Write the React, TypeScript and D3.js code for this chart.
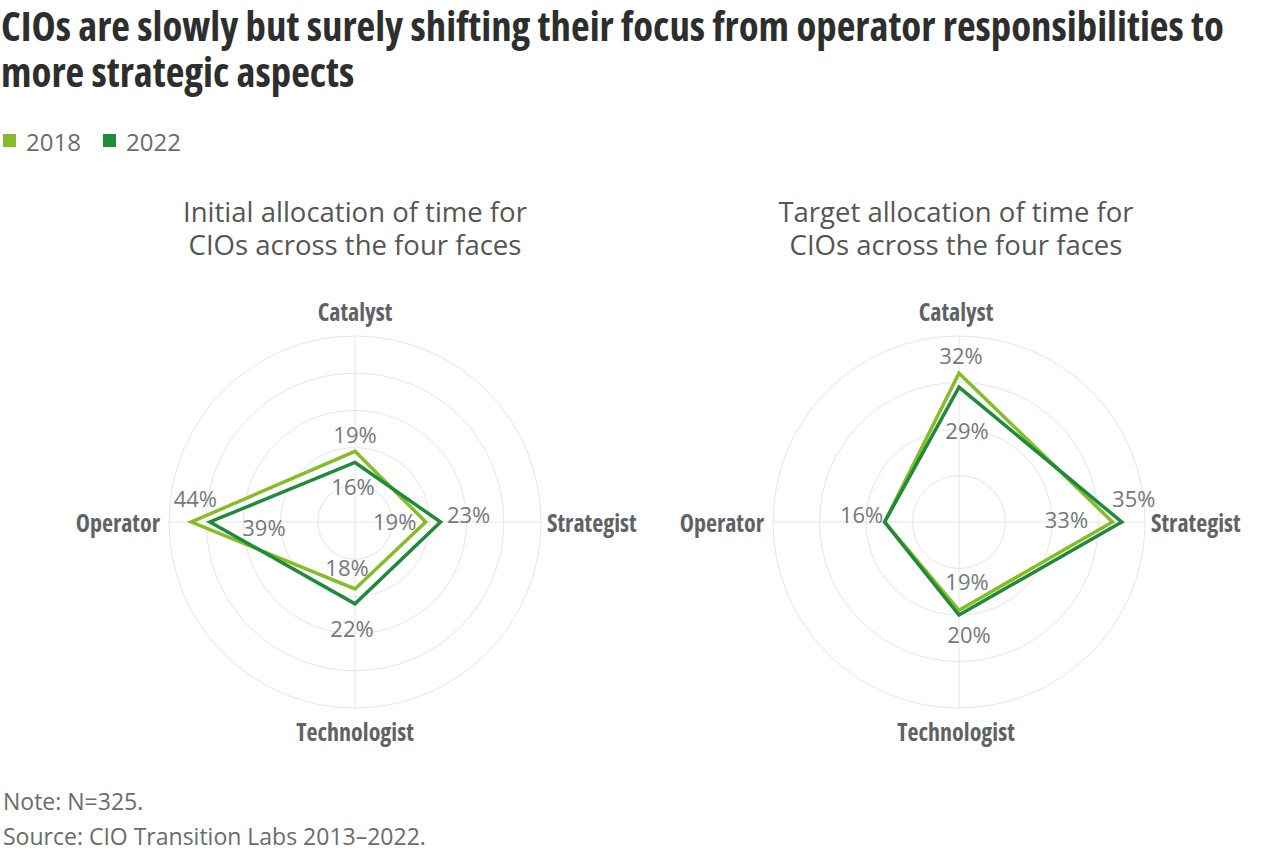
import { useEffect, useRef } from "react"
import * as d3 from "d3"

const faces = ["Catalyst", "Strategist", "Technologist", "Operator"]
const years = ["2018", "2022"]

const initial2018 = [19, 19, 18, 44]
const initial2022 = [16, 23, 22, 39]
const target2018 = [32, 33, 19, 16]
const target2022 = [29, 35, 20, 16]

const initialTicks = [10, 20, 30, 40, 50]
const targetTicks = [10, 20, 30, 40]

const colors = ["#86bc25", "#1f8a3a"]

// label offsets relative to each point (null = no label)
type Off = { dx: number; dy: number } | null
const initialOffsets: Off[][] = [
  [{ dx: 0, dy: -17 }, { dx: -31, dy: -1 }, { dx: -8, dy: -22 }, { dx: 4, dy: -24 }],
  [{ dx: -2, dy: 24 }, { dx: 28, dy: -8 }, { dx: -3, dy: 24 }, { dx: 54, dy: 5 }],
]
const targetOffsets: Off[][] = [
  [{ dx: 2, dy: -18 }, { dx: -46, dy: -3 }, { dx: 8, dy: -29 }, null],
  [{ dx: 8, dy: 43 }, { dx: 12, dy: -24 }, { dx: 10, dy: 19 }, { dx: -23, dy: -8 }],
]

const condensed = "'Open Sans', 'Liberation Sans Narrow', sans-serif"
const sans = "'Open Sans', sans-serif"

export default function App() {
  const svgRef = useRef<SVGSVGElement>(null)

  useEffect(() => {
    if (!svgRef.current) return
    const width = 1265
    const height = 864
    const svg = d3.select(svgRef.current).attr("width", width).attr("height", height)
    svg.selectAll("*").remove()

    svg.append("rect").attr("width", width).attr("height", height).attr("fill", "#fff")

    // Title
    const title = svg
      .append("text")
      .attr("font-family", condensed)
      .attr("font-weight", 700)
      .style("font-stretch", "condensed")
      .attr("font-size", 40.8)
      .attr("fill", "#2e2e2e")
    title.append("tspan").attr("x", 1).attr("y", 41).text("CIOs are slowly but surely shifting their focus from operator responsibilities to")
    title.append("tspan").attr("x", 1).attr("y", 87).text("more strategic aspects")

    // Legend
    const legend = svg.append("g").attr("transform", "translate(3,134)")
    const lx = [0, 100]
    years.forEach((y, i) => {
      legend.append("rect").attr("x", lx[i]).attr("y", 0).attr("width", 13).attr("height", 13).attr("fill", colors[i])
      legend
        .append("text")
        .attr("x", lx[i] + 23)
        .attr("y", 7)
        .attr("dominant-baseline", "central")
        .attr("font-family", sans)
        .attr("font-size", 24)
        .attr("fill", "#6b6b6b")
        .text(y)
    })

    const outerR = 186
    const drawRadar = (
      cx: number,
      titleX: number,
      subtitle: string[],
      series: number[][],
      ticks: number[],
      offsets: Off[][],
    ) => {
      const cy = 522
      const g = svg.append("g").attr("transform", `translate(${cx},${cy})`)
      const r = d3.scaleLinear().domain([0, d3.max(ticks)!]).range([0, outerR])
      const angle = (i: number) => (i * Math.PI) / 2

      // subtitle
      subtitle.forEach((s, i) => {
        svg
          .append("text")
          .attr("x", titleX)
          .attr("y", 222 + i * 33)
          .attr("text-anchor", "middle")
          .attr("font-family", sans)
          .attr("font-size", 27.5)
          .attr("fill", "#555")
          .text(s)
      })

      // grid rings
      g.selectAll("circle.ring")
        .data(ticks)
        .enter()
        .append("circle")
        .attr("class", "ring")
        .attr("r", (d) => r(d))
        .attr("fill", "none")
        .attr("stroke", "#e6e6e6")
        .attr("stroke-width", 1)

      // spokes
      g.selectAll("line.spoke")
        .data(faces)
        .enter()
        .append("line")
        .attr("x1", 0)
        .attr("y1", 0)
        .attr("x2", (_, i) => Math.sin(angle(i)) * outerR)
        .attr("y2", (_, i) => -Math.cos(angle(i)) * outerR)
        .attr("stroke", "#e6e6e6")
        .attr("stroke-width", 1)

      // axis labels
      const labelDist = [211, 192, 209, 195]
      faces.forEach((f, i) => {
        const d = labelDist[i]
        const x = Math.sin(angle(i)) * d + (i % 2 === 0 ? titleX - cx : 0)
        const y = -Math.cos(angle(i)) * d
        g.append("text")
          .attr("x", x)
          .attr("y", y)
          .attr("text-anchor", i === 1 ? "start" : i === 3 ? "end" : "middle")
          .attr("dominant-baseline", "central")
          .attr("font-family", condensed)
          .style("font-stretch", "condensed")
          .attr("font-weight", 700)
          .attr("font-size", 24)
          .attr("fill", "#5f6266")
          .text(f)
      })

      const line = d3
        .lineRadial<number>()
        .angle((_, i) => angle(i))
        .radius((d) => r(d))
        .curve(d3.curveLinearClosed)

      series.forEach((vals, s) => {
        g.append("path")
          .attr("d", line(vals))
          .attr("fill", "none")
          .attr("stroke", colors[s])
          .attr("stroke-width", 3.5)
          .attr("stroke-linejoin", "miter")
      })

      series.forEach((vals, s) => {
        vals.forEach((v, i) => {
          const o = offsets[s][i]
          if (!o) return
          const px = Math.sin(angle(i)) * r(v)
          const py = -Math.cos(angle(i)) * r(v)
          g.append("text")
            .attr("x", px + o.dx)
            .attr("y", py + o.dy)
            .attr("text-anchor", "middle")
            .attr("dominant-baseline", "central")
            .attr("font-family", sans)
            .attr("font-size", 22)
            .attr("fill", "#75787b")
            .text(`${v}%`)
        })
      })
    }

    drawRadar(
      355,
      355,
      ["Initial allocation of time for", "CIOs across the four faces"],
      [initial2018, initial2022],
      initialTicks,
      initialOffsets,
    )
    drawRadar(
      959,
      956,
      ["Target allocation of time for", "CIOs across the four faces"],
      [target2018, target2022],
      targetTicks,
      targetOffsets,
    )

    // notes
    const notes = ["Note: N=325.", "Source: CIO Transition Labs 2013–2022."]
    notes.forEach((n, i) => {
      svg
        .append("text")
        .attr("x", 3)
        .attr("y", 801 + i * 35)
        .attr("dominant-baseline", "central")
        .attr("font-family", sans)
        .attr("font-size", 23)
        .attr("fill", "#6b6b6b")
        .text(n)
    })
  }, [])

  return <svg ref={svgRef} style={{ position: "absolute", left: 0, top: 0 }} />
}
